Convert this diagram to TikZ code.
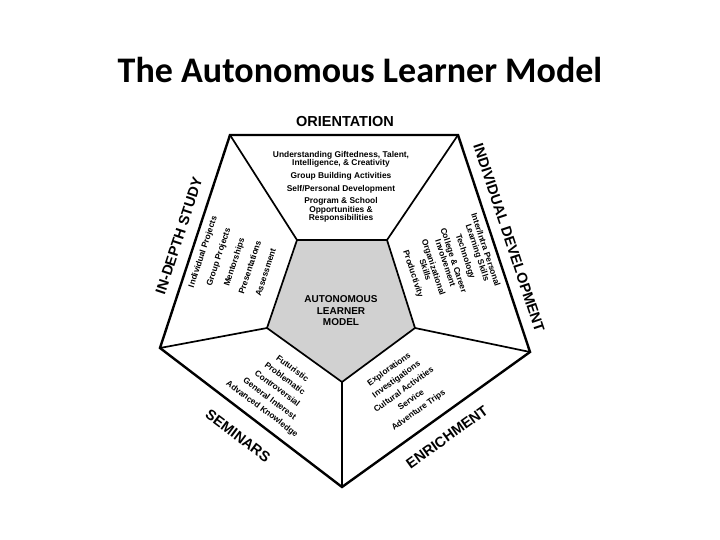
\documentclass[tikz,border=0pt]{standalone}
\usepackage{fontspec}
\setmainfont{Liberation Sans}
\newfontfamily\titlefont{Carlito}
\begin{document}
\begin{tikzpicture}[x=1pt,y=-1pt,
  edge/.style={line width=2.4pt,line join=miter},
  spoke/.style={line width=1.7pt},
  head/.style={font=\bfseries\fontsize{14.5}{15}\selectfont,inner sep=0pt},
  item/.style={font=\bfseries\fontsize{8.4}{8.6}\selectfont,align=center,inner sep=0pt}]
\useasboundingbox (0,0) rectangle (720,540);
\node[font=\titlefont\bfseries\fontsize{36}{40}\selectfont] (title) at (360,70) {The Autonomous Learner Model};
\coordinate (o1) at (230,135); \coordinate (o2) at (458,135); \coordinate (o3) at (530,352);
\coordinate (o4) at (342,487); \coordinate (o5) at (160,348);
\coordinate (i1) at (297,240); \coordinate (i2) at (387,240); \coordinate (i3) at (415,328);
\coordinate (i4) at (342,382); \coordinate (i5) at (267,328);
\draw[spoke] (o1)--(i1) (o2)--(i2) (o3)--(i3) (o4)--(i4) (o5)--(i5);
\draw[spoke,fill=black!18] (i1)--(i2)--(i3)--(i4)--(i5)--cycle;
\draw[edge] (o1)--(o2)--(o3)--(o4)--(o5)--cycle;
\node[item,font=\bfseries\fontsize{10}{10.5}\selectfont] (c) at (341,311) {AUTONOMOUS\\[1pt]LEARNER\\[1pt]MODEL};
\node[head] (h1) at (345,122) {ORIENTATION};
\node[head,rotate=71.8] (h2) at (179,236) {IN-DEPTH STUDY};
\node[head,rotate=-71.6] (h3) at (509,238) {INDIVIDUAL DEVELOPMENT};
\node[head,rotate=-37] (h4) at (238,436) {SEMINARS};
\node[head,rotate=35.7] (h5) at (447,437) {ENRICHMENT};
\node[item] (t1) at (341,187) {Understanding Giftedness, Talent,\\Intelligence, \& Creativity\\[4pt]Group Building Activities\\[4pt]Self/Personal Development\\[4pt]Program \& School\\Opportunities \&\\Responsibilities};
\node[item,rotate=71.8] (t2) at (234,262) {Individual Projects\\[8pt]Group Projects\\[8pt]Mentorships\\[8pt]Presentations\\[8pt]Assessment};
\node[item,rotate=-71.6] (t3) at (449,262) {Inter/Intra Personal\\Learning Skills\\[4pt]Technology\\[4pt]College \& Career\\Involvement\\[4pt]Organizational\\Skills\\[4pt]Productivity};
\node[item,rotate=-37] (t4) at (277,389) {Futuristic\\[4pt]Problematic\\[4pt]Controversial\\[4pt]General Interest\\[4pt]Advanced Knowledge};
\node[item,rotate=35.7] (t5) at (404,390) {Explorations\\[4pt]Investigations\\[4pt]Cultural Activities\\[4pt]Service\\[4pt]Adventure Trips};
\end{tikzpicture}
\end{document}
